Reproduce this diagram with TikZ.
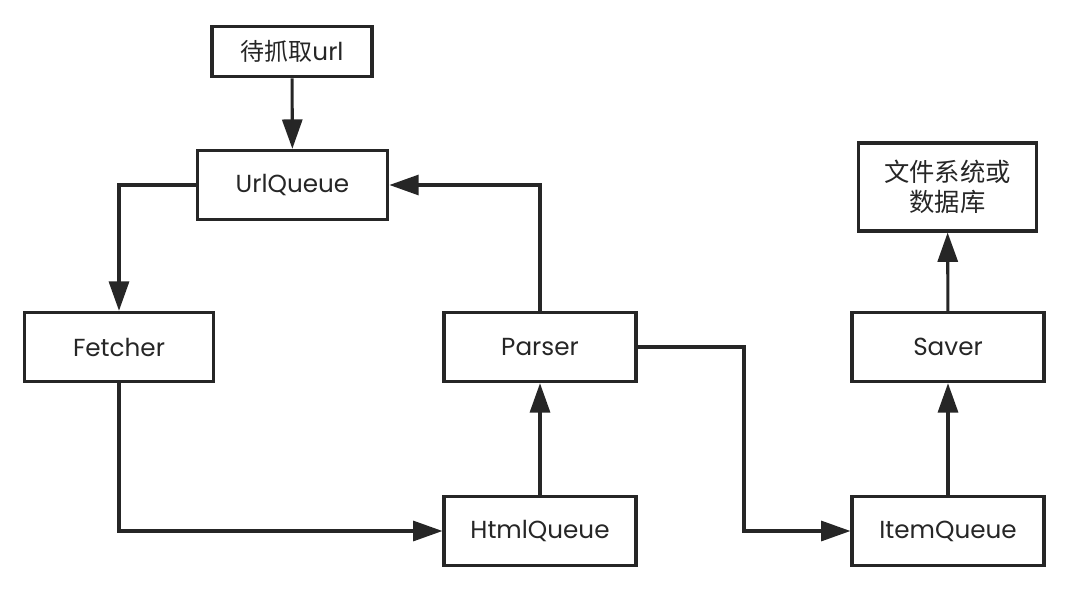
\documentclass[tikz,border=0pt]{standalone}
\usepackage{fontspec}
\setmainfont{Poppins}
\newfontfamily\cjk{Noto Sans CJK SC}
\usetikzlibrary{calc, arrows.meta}

\begin{document}
\begin{tikzpicture}[x=0.75pt, y=-0.75pt,
	box/.style={draw=black!85, line width=2.3pt, fill=white, text=black!85, inner sep=0pt, align=center, font=\fontsize{18.5}{22.5}\selectfont},
	flow/.style={draw=black!85, line width=2.3pt, -{Triangle[length=22pt, width=15pt]}}]
	\useasboundingbox (0, 0) rectangle (1078, 610);

	\node[box, minimum width=120pt, minimum height=38pt] (url) at (292, 51.5) {{\cjk\fontsize{18}{22.5}\selectfont 待抓取}url};
	\node[box, minimum width=143pt, minimum height=52pt] (urlq) at (292.5, 185) {UrlQueue};
	\node[box, minimum width=142pt, minimum height=52pt] (fetcher) at (119, 347) {Fetcher};
	\node[box, minimum width=144pt, minimum height=52pt] (parser) at (540, 347) {Parser};
	\node[box, minimum width=144pt, minimum height=52pt] (htmlq) at (540, 531) {HtmlQueue};
	\node[box, minimum width=144pt, minimum height=52pt] (itemq) at (948, 531) {ItemQueue};
	\node[box, minimum width=144pt, minimum height=52pt] (saver) at (948, 347) {Saver};
	\node[box, minimum width=134pt, minimum height=66pt, font=\cjk\fontsize{19}{22.5}\selectfont] (store) at (947.5, 187) {文件系统或\\数据库};

	\draw[flow] (url) -- (urlq);
	\draw[flow] (urlq.west) -| (fetcher.north);
	\draw[flow] (fetcher.south) |- (htmlq.west);
	\draw[flow] (htmlq) -- (parser);
	\draw[flow] (parser.north) |- (urlq.east);
	\draw[flow] (parser.east) -| ($(parser.east)!0.5!(itemq.west)$) |- (itemq.west);
	\draw[flow] (itemq) -- (saver);
	\draw[flow] (saver) -- (store);
\end{tikzpicture}
\end{document}
